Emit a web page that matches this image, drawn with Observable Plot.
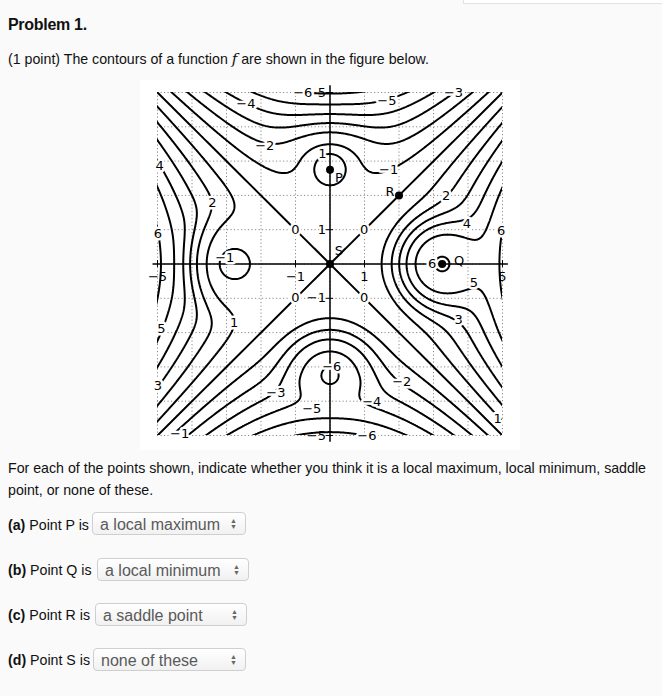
<!DOCTYPE html>
<html>
<head>
<meta charset="utf-8">
<script src="https://cdn.jsdelivr.net/npm/d3@7"></script>
<script src="https://cdn.jsdelivr.net/npm/@observablehq/plot@0.6"></script>
<style>
  html, body { margin: 0; padding: 0; }
  body { width: 662px; height: 696px; overflow: hidden; position: relative; background: #fafafa;
         font-family: "Liberation Sans", Arial, Helvetica, sans-serif; color: #111; }
  .t { position: absolute; left: 8px; font-size: 14.2px; line-height: 16px; white-space: nowrap; }
  .sel { position: absolute; height: 23px; border: 1px solid #cfcfcf; border-radius: 4px;
         background: linear-gradient(#ffffff, #f1f1f1); color: #5a5a5a; font-size: 16px; line-height: 23px;
         padding-left: 7px; box-sizing: border-box; white-space: nowrap; }
  .sel .ar { position: absolute; right: 8px; top: 5px; font-size: 7px; line-height: 6px; color: #666; }
  #chart { position: absolute; left: 140px; top: 80px; }
</style>
</head>
<body>
<div style="position:absolute;left:463px;top:-20px;width:220px;height:22px;border:1px solid #e2e2e2;background:#fff"></div>
<div class="t" style="top:16px;font-size:16px;line-height:18px;font-weight:bold;letter-spacing:-0.3px">Problem 1.</div>
<div class="t" style="top:51px">(1 point) The contours of a function <i style="font-family:'DejaVu Serif','Liberation Serif',serif;font-size:15px">f</i> are shown in the figure below.</div>
<div id="chart"></div>
<div class="t" style="top:460px">For each of the points shown, indicate whether you think it is a local maximum, local minimum, saddle</div>
<div class="t" style="top:482px">point, or none of these.</div>

<div class="t" style="top:517px"><b>(a)</b> Point P is</div>
<div class="sel" style="left:92px;top:512px;width:154px">a local maximum<span class="ar">▲<br>▼</span></div>
<div class="t" style="top:562px"><b>(b)</b> Point Q is</div>
<div class="sel" style="left:97px;top:558px;width:152px">a local minimum<span class="ar">▲<br>▼</span></div>
<div class="t" style="top:607px"><b>(c)</b> Point R is</div>
<div class="sel" style="left:95px;top:603px;width:152px">a saddle point<span class="ar">▲<br>▼</span></div>
<div class="t" style="top:652px"><b>(d)</b> Point S is</div>
<div class="sel" style="left:93px;top:648px;width:153px">none of these<span class="ar">▲<br>▼</span></div>

<script>
// ---------- data ----------
// contour levels drawn
const levels = [-6, -5, -4, -3, -2, -1, 0, 1, 2, 3, 4, 5, 6];
// saddle background: f0 = (x^2 - y^2) / saddleDivisor
const saddleDivisor = 4;
// local features (centre, level they flatten toward, spread, sharpness)
const featX = [0, 3.25, -2.7, 0];
const featY = [3.0, 0, 0, -3.3];
const featValue = [-0.5, 5.8, 0.5, -4.5];
const featSX = [1.41, 1.3, 1.3, 1.3];
const featSYup = [1.05, 1.3, 1.6, 1.3];
const featSYdown = [1.41, 1.3, 1.6, 0.9];
const featPow = [2, 3, 4, 3];
// small closed contours around the extrema
const ringX = [0, 3.25, -2.76, 0];
const ringY = [2.75, 0, 0, -3.25];
const ringR = [0.46, 0.2, 0.44, 0.25];
const ringValue = [0.5, 6.5, -0.5, -5.5];

// contour labels (value, x, y)
const labelValue = [-6, -4, -5, -3, -2, 1, -1, 4, 2, 2, 0, 0, 4, 6, 6, -1, 6, 5, 0, 0, 1, 5, 3, -6, -2, 3, -3, -4, -5, 1, -1, -6];
const labelX = [-0.79, -2.44, 1.65, 3.58, -1.89, -0.22, 1.70, -4.94, -3.41, 3.37, -1.0, 0.99, 3.97, 4.96, -4.99, -3.05, 2.96, 4.17, -1.0, 0.99, -2.78, -4.89, 3.73, 0.05, 2.08, -4.99, -1.57, 1.21, -0.53, 4.86, -4.36, 1.07];
const labelY = [4.98, 4.66, 4.75, 4.98, 3.44, 3.2, 2.76, 2.86, 1.79, 1.98, 1.01, 1.01, 1.16, 0.96, 0.88, 0.18, 0.0, -0.55, -1.0, -1.0, -1.71, -1.9, -1.64, -3.0, -3.44, -3.56, -3.75, -4.02, -4.22, -4.5, -4.94, -5.01];

// marked points
const pointName = ["P", "Q", "R", "S"];
const pointX = [0, 3.25, 2, 0];
const pointY = [2.75, 0, 2, 0];

// axes
const gridValues = [-5, -4, -3, -2, -1, 0, 1, 2, 3, 4, 5];
const tickValues = [-5, -1, 1, 5];

// ---------- build ----------
function f(x, y) {
  const d = x * x - y * y;
  const f0 = d / saddleDivisor;
  let v = f0;
  for (let i = 0; i < featX.length; i++) {
    const dx = (x - featX[i]) / featSX[i];
    const dy = (y - featY[i]) / (y >= featY[i] ? featSYup[i] : featSYdown[i]);
    const r2 = dx * dx + dy * dy;
    const w = Math.exp(-Math.pow(r2, featPow[i] / 2));
    const s = Math.max(0, Math.tanh(Math.sign(featValue[i]) * d));
    v += w * s * (featValue[i] - f0);
  }
  let msum = 0, macc = 0;
  for (let i = 0; i < ringX.length; i++) {
    const r = Math.hypot(x - ringX[i], y - ringY[i]);
    const m = 1 / (1 + Math.exp((r - ringR[i]) / 0.012));
    msum += m; macc += m * ringValue[i];
  }
  return v * (1 - msum) + macc;
}

const fmt = (v) => (v < 0 ? "\u2212" + Math.abs(v) : String(v));
const labels = labelValue.map((v, i) => ({v, x: labelX[i], y: labelY[i]}));
const points = pointName.map((n, i) => ({n, x: pointX[i], y: pointY[i]}));
const labelOffsets = {P: [9, 4], Q: [17, -8], R: [-9, -8], S: [9, -18]};

const font = "DejaVu Sans, Verdana, sans-serif";
const chart = Plot.plot({
  width: 380, height: 370,
  marginLeft: 17, marginRight: 18, marginTop: 12, marginBottom: 15,
  x: {domain: [-5, 5], axis: null},
  y: {domain: [-5, 5], axis: null},
  style: {background: "white", fontFamily: font},
  marks: [
    Plot.ruleX(gridValues, {stroke: "#8a8a8a", strokeWidth: 1, strokeDasharray: "1.2,2.3"}),
    Plot.ruleY(gridValues, {stroke: "#8a8a8a", strokeWidth: 1, strokeDasharray: "1.2,2.3"}),
    Plot.contour({x1: -5.6, x2: 5.6, y1: -5.6, y2: 5.6, pixelSize: 1, value: f, thresholds: levels,
                  fill: "none", stroke: "black", strokeWidth: 2, clip: true}),
    Plot.ruleY([0], {x1: -5.13, x2: 5.17, stroke: "black", strokeWidth: 1.5}),
    Plot.ruleX([0], {y1: -5.2, y2: 5.2, stroke: "black", strokeWidth: 1.5}),
    Plot.ruleX(tickValues, {y1: -0.1, y2: 0.1, stroke: "black", strokeWidth: 1}),
    Plot.ruleY(tickValues, {x1: -0.1, x2: 0.1, stroke: "black", strokeWidth: 1}),
    Plot.text(labels, {x: "x", y: "y", text: (d) => fmt(d.v), fontSize: 13, fill: "black",
                       stroke: "white", strokeWidth: 5}),
    Plot.text(tickValues, {x: (d) => d, y: 0, dy: 13, text: fmt, fontSize: 13, fill: "black"}),
    Plot.text(tickValues, {x: 0, y: (d) => d, dx: -4, textAnchor: "end", text: fmt, fontSize: 13, fill: "black"}),
    Plot.dot(points, {x: "x", y: "y", r: 4, fill: "black"}),
    Plot.text(points, {x: "x", y: "y", text: "n", fontSize: 13, fill: "black"})
  ]
});
document.getElementById("chart").appendChild(chart);
// shift point letters to their places beside the dots
const texts = chart.querySelectorAll("g[aria-label='text']");
const ptText = texts[texts.length - 1];
ptText.querySelectorAll("text").forEach((t, i) => {
  const o = labelOffsets[pointName[i]];
  t.setAttribute("dx", o[0]);
  t.setAttribute("dy", (o[1] + 4.5));
});
</script>
</body>
</html>
